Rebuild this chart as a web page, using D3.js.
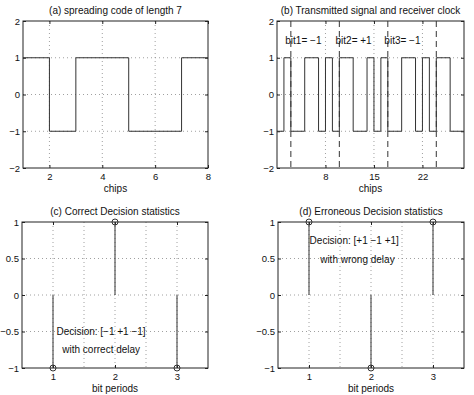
<!DOCTYPE html>
<html>
<head>
<meta charset="utf-8">
<script src="https://d3js.org/d3.v7.min.js"></script>
<style>
  body { margin: 0; background: #fff; }
  svg text { font-family: "Liberation Sans", Arial, Helvetica, sans-serif; font-size: 10px; fill: #111; }
</style>
</head>
<body>
<div id="fig"></div>
<script>
// spreading code, one value per chip (x = 1..8)
const codeChips = [1, 2, 3, 4, 5, 6, 7, 8];
const codeValues = [1, -1, 1, 1, -1, -1, 1];

// transmitted signal, one level per chip starting at x = 1
const signalLevels = [-1, 1, -1, -1, 1, 1, -1,  1, -1, 1, 1, -1, -1, 1,
                      -1, 1, -1, -1, 1, 1, -1,  1, -1, 1, 1, -1, -1];
const clockTimes = [3, 10, 17, 24];
const bitLabels = ["bit1= −1", "bit2= +1", "bit3= −1"];
const bitLabelX = [2.2, 9.45, 16.5];

// decision statistics
const bitPeriods = [1, 2, 3];
const correctStats = [-1, 1, -1];
const wrongStats = [1, -1, 1];

const W = 474, H = 395;
const svg = d3.select("#fig").append("svg")
    .attr("width", W).attr("height", H);

function panel(o) {
    const x = d3.scaleLinear().domain(o.xDomain).range([o.left, o.right]);
    const y = d3.scaleLinear().domain(o.yDomain).range([o.bottom, o.top]);
    const g = svg.append("g");

    // grid
    g.selectAll(".gx").data(o.xGrid).enter().append("line")
        .attr("x1", d => x(d)).attr("x2", d => x(d))
        .attr("y1", o.top).attr("y2", o.bottom)
        .attr("stroke", "#888").attr("stroke-width", 0.8).attr("stroke-dasharray", "1,3");
    g.selectAll(".gy").data(o.yGrid).enter().append("line")
        .attr("x1", o.left).attr("x2", o.right)
        .attr("y1", d => y(d)).attr("y2", d => y(d))
        .attr("stroke", "#888").attr("stroke-width", 0.8).attr("stroke-dasharray", "1,3");

    // axes (ticks inside, mirrored)
    const fmt = d => d3.format("")(d).replace("-", "−");
    const bottomAxis = d3.axisBottom(x).tickValues(o.xTicks).tickSizeInner(-3).tickSizeOuter(0)
        .tickPadding(5.5).tickFormat(fmt);
    const leftAxis = d3.axisLeft(y).tickValues(o.yTicks).tickSizeInner(-3).tickSizeOuter(0)
        .tickPadding(3).tickFormat(fmt);
    g.append("g").attr("transform", `translate(0,${o.bottom})`).call(bottomAxis);
    g.append("g").attr("transform", `translate(${o.left},0)`).call(leftAxis);
    g.append("g").attr("transform", `translate(0,${o.top})`)
        .call(d3.axisTop(x).tickValues(o.xTicks).tickSizeInner(-3).tickSizeOuter(0).tickFormat(""));
    g.append("g").attr("transform", `translate(${o.right},0)`)
        .call(d3.axisRight(y).tickValues(o.yTicks).tickSizeInner(-3).tickSizeOuter(0).tickFormat(""));
    g.selectAll(".domain").remove();
    g.selectAll(".tick line").attr("stroke", "#222");
    g.selectAll(".tick text").style("font-size", "9.5px").attr("fill", "#111");

    g.append("rect")
        .attr("x", o.left).attr("y", o.top)
        .attr("width", o.right - o.left).attr("height", o.bottom - o.top)
        .attr("fill", "none").attr("stroke", "#222").attr("stroke-width", 1);

    g.append("text").attr("x", (o.left + o.right) / 2).attr("y", o.top - 10)
        .attr("text-anchor", "middle").attr("dominant-baseline", "middle").text(o.title);
    g.append("text").attr("x", (o.left + o.right) / 2).attr("y", o.xlabelY)
        .attr("text-anchor", "middle").attr("dominant-baseline", "middle").text(o.xlabel);

    return { g, x, y };
}

// (a)
{
    const p = panel({
        left: 23, right: 208, top: 21, bottom: 168,
        xDomain: [1, 8], yDomain: [-2, 2],
        xTicks: [2, 4, 6, 8], yTicks: [-2, -1, 0, 1, 2],
        xGrid: [2, 4, 6], yGrid: [-1, 0, 1],
        title: "(a) spreading code of length 7", xlabel: "chips", xlabelY: 189.5
    });
    const pts = codeValues.map((v, i) => [codeChips[i], v]);
    pts.push([codeChips[codeChips.length - 1], codeValues[codeValues.length - 1]]);
    p.g.append("path")
        .attr("d", d3.line().x(d => p.x(d[0])).y(d => p.y(d[1])).curve(d3.curveStepAfter)(pts))
        .attr("fill", "none").attr("stroke", "#333").attr("stroke-width", 1);
}

// (b)
{
    const p = panel({
        left: 277, right: 464, top: 21, bottom: 168,
        xDomain: [1, 28], yDomain: [-2, 2],
        xTicks: [8, 15, 22], yTicks: [-2, -1, 0, 1, 2],
        xGrid: [8, 15, 22], yGrid: [-1, 0, 1],
        title: "(b) Transmitted signal and receiver clock", xlabel: "chips", xlabelY: 189.5
    });
    p.g.selectAll(".clk").data(clockTimes).enter().append("line")
        .attr("x1", d => p.x(d)).attr("x2", d => p.x(d))
        .attr("y1", 21).attr("y2", 168)
        .attr("stroke", "#333").attr("stroke-width", 1).attr("stroke-dasharray", "6,4");
    const pts = signalLevels.map((v, i) => [1 + i, v]);
    pts.push([1 + signalLevels.length, signalLevels[signalLevels.length - 1]]);
    p.g.append("path")
        .attr("d", d3.line().x(d => p.x(d[0])).y(d => p.y(d[1])).curve(d3.curveStepAfter)(pts))
        .attr("fill", "none").attr("stroke", "#333").attr("stroke-width", 1);
    p.g.selectAll(".bl").data(bitLabels).enter().append("text")
        .attr("x", (d, i) => p.x(bitLabelX[i])).attr("y", p.y(1.45))
        .attr("dominant-baseline", "middle").text(d => d);
}

// stem panels
function stemPanel(o, values, notes) {
    const p = panel(Object.assign({
        top: 222, bottom: 368,
        xDomain: [0.5, 3.5], yDomain: [-1, 1],
        xTicks: [1, 2, 3], yTicks: [-1, -0.5, 0, 0.5, 1],
        xGrid: [1, 1.5, 2, 2.5, 3], yGrid: [-0.5, 0, 0.5],
        xlabel: "bit periods", xlabelY: 389
    }, o));
    p.g.selectAll(".stem").data(values).enter().append("line")
        .attr("x1", (d, i) => p.x(bitPeriods[i])).attr("x2", (d, i) => p.x(bitPeriods[i]))
        .attr("y1", p.y(0)).attr("y2", d => p.y(d))
        .attr("stroke", "#333").attr("stroke-width", 1);
    p.g.selectAll(".mk").data(values).enter().append("circle")
        .attr("cx", (d, i) => p.x(bitPeriods[i])).attr("cy", d => p.y(d)).attr("r", 3)
        .attr("fill", "none").attr("stroke", "#333").attr("stroke-width", 1);
    p.g.selectAll(".note").data(notes).enter().append("text")
        .attr("x", d => p.x(d.x)).attr("y", d => p.y(d.y))
        .attr("dominant-baseline", "middle").text(d => d.text);
}

stemPanel({ left: 22, right: 208, title: "(c) Correct Decision statistics" }, correctStats, [
    { x: 1.055, y: -0.51, text: "Decision: [−1 +1 −1]" },
    { x: 1.15, y: -0.76, text: "with correct delay" }
]);
stemPanel({ left: 278, right: 464, title: "(d) Erroneous Decision statistics" }, wrongStats, [
    { x: 1.01, y: 0.73, text: "Decision: [+1 −1 +1]" },
    { x: 1.18, y: 0.48, text: "with wrong delay" }
]);
</script>
</body>
</html>
